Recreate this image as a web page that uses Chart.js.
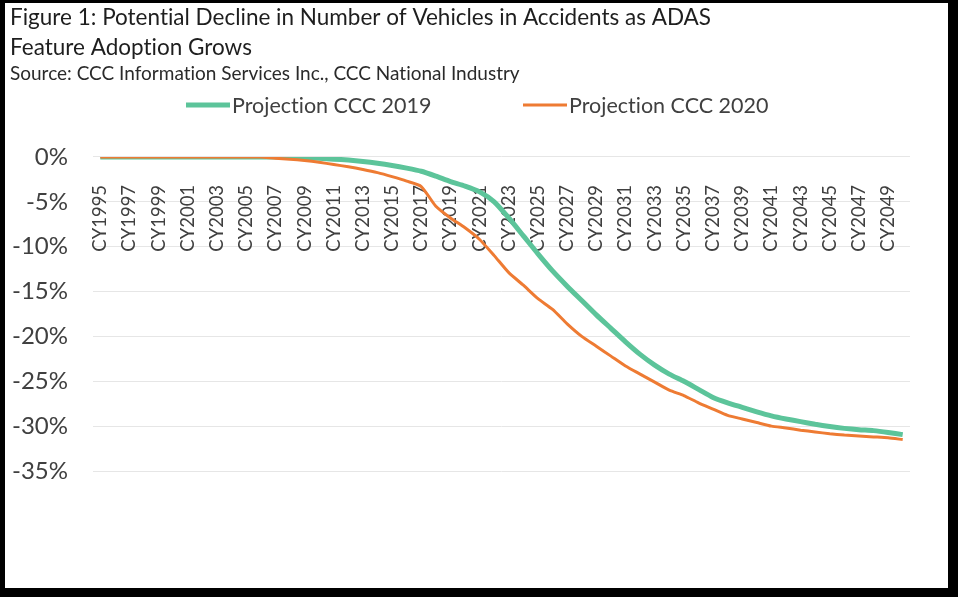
<!DOCTYPE html>
<html>
<head>
<meta charset="utf-8">
<script src="https://cdn.jsdelivr.net/npm/chart.js@4.4.1/dist/chart.umd.min.js"></script>
<style>
  html, body { margin: 0; padding: 0; background: #fff; }
  #frame {
    width: 943px; height: 585px;
    border-style: solid; border-color: #000;
    border-width: 3px 10px 9px 5px;
  }
</style>
</head>
<body>
<div id="frame"><canvas id="chart" width="943" height="585"></canvas></div>
<script>
const years = ['CY1995','CY1996','CY1997','CY1998','CY1999','CY2000','CY2001','CY2002','CY2003','CY2004',
  'CY2005','CY2006','CY2007','CY2008','CY2009','CY2010','CY2011','CY2012','CY2013','CY2014',
  'CY2015','CY2016','CY2017','CY2018','CY2019','CY2020','CY2021','CY2022','CY2023','CY2024',
  'CY2025','CY2026','CY2027','CY2028','CY2029','CY2030','CY2031','CY2032','CY2033','CY2034',
  'CY2035','CY2036','CY2037','CY2038','CY2039','CY2040','CY2041','CY2042','CY2043','CY2044',
  'CY2045','CY2046','CY2047','CY2048','CY2049','CY2050']

// percent change
const proj2019 = [0,0,0,0,0,0,0,0,0,0,0,0,0,
  -0.05,-0.1,-0.15,-0.25,-0.35,-0.5,-0.7,-0.95,-1.25,-1.6,-2.15,-2.75,-3.25,-3.9,-5.0,-6.8,-8.8,
  -10.8,-12.7,-14.4,-16.0,-17.6,-19.1,-20.6,-22.0,-23.2,-24.2,-25.0,-25.9,-26.8,-27.4,-27.9,
  -28.4,-28.85,-29.2,-29.5,-29.8,-30.05,-30.25,-30.4,-30.5,-30.7,-30.95]
const proj2020 = [0,0,0,0,0,0,0,0,0,0,0,0,
  -0.15,-0.25,-0.4,-0.6,-0.85,-1.1,-1.4,-1.75,-2.2,-2.7,-3.3,-5.5,-6.8,-7.9,-9.2,-11.0,-12.9,
  -14.3,-15.8,-17.0,-18.6,-20.0,-21.1,-22.2,-23.3,-24.2,-25.1,-26.0,-26.6,-27.4,-28.1,-28.8,
  -29.2,-29.6,-30.0,-30.2,-30.45,-30.65,-30.85,-31.0,-31.1,-31.2,-31.3,-31.5]
const yTicks = [0,-5,-10,-15,-20,-25,-30,-35]

const seriesNames = ['Projection CCC 2019', 'Projection CCC 2020']
const seriesColors = ['#5cc49a', '#ee7b33']
const FONT = 'Lato, "Open Sans", sans-serif'

// Lato's "ti" ligature looks off next to the original, turn ligatures off
const noLigatures = {
  id: 'noLigatures',
  beforeDraw(chart) {
    chart.ctx.textRendering = 'optimizeSpeed'
  }
}

// legend sits far apart like the excel one, so draw it by hand
const lineLegend = {
  id: 'lineLegend',
  afterDraw(chart) {
    const ctx = chart.ctx
    const spots = [181, 518]
    ctx.save()
    ctx.font = '21.5px ' + FONT
    ctx.textBaseline = 'middle'
    ctx.fillStyle = '#404040'
    chart.data.datasets.forEach((ds, i) => {
      const x = spots[i], y = 102
      ctx.strokeStyle = ds.borderColor
      ctx.lineWidth = ds.borderWidth
      ctx.beginPath()
      ctx.moveTo(x, y)
      ctx.lineTo(x + 44, y)
      ctx.stroke()
      ctx.fillText(ds.label, x + 46, y + 1)
    })
    ctx.restore()
  }
}

new Chart(document.getElementById('chart'), {
  type: 'line',
  data: {
    labels: years,
    datasets: [
      { label: seriesNames[0], data: proj2019, borderColor: seriesColors[0], borderWidth: 5,
        pointRadius: 0, tension: 0.2, borderJoinStyle: 'round', order: 1 },
      { label: seriesNames[1], data: proj2020, borderColor: seriesColors[1], borderWidth: 3,
        pointRadius: 0, tension: 0.2, borderJoinStyle: 'round', order: 0 }
    ]
  },
  options: {
    responsive: false,
    animation: false,
    layout: { padding: { left: 5, right: 38, top: 0, bottom: 117 } },
    plugins: {
      legend: { display: false },
      tooltip: { enabled: false },
      title: {
        display: true,
        text: ['Figure 1: Potential Decline in Number of Vehicles in Accidents as ADAS', 'Feature Adoption Grows'],
        align: 'start',
        color: '#1e1e1e',
        font: { family: FONT, size: 22.5, weight: 'normal', lineHeight: 30 / 22.5 },
        padding: { top: 0, bottom: 0 }
      },
      subtitle: {
        display: true,
        text: 'Source: CCC Information Services Inc., CCC National Industry',
        align: 'start',
        color: '#2a2a2a',
        font: { family: FONT, size: 19, lineHeight: 1.1 },
        padding: { top: 0, bottom: 73 }
      }
    },
    scales: {
      x: {
        position: { y: 0 },
        offset: true,
        grid: { display: false },
        border: { display: false },
        ticks: {
          autoSkip: false,
          minRotation: 90,
          maxRotation: 90,
          padding: 20,
          color: '#404040',
          font: { family: FONT, size: 18.5 },
          callback: function (v, i) { return i % 2 === 0 ? this.getLabelForValue(v) : '' }
        }
      },
      y: {
        min: -35,
        max: 0,
        afterFit: s => { s.width = 83 },
        afterBuildTicks: s => { s.ticks = yTicks.map(v => ({ value: v })) },
        grid: { color: '#e6e6e6', lineWidth: 1, drawTicks: false },
        border: { display: false },
        ticks: {
          padding: 25,
          color: '#404040',
          font: { family: FONT, size: 24 },
          callback: v => v + '%'
        }
      }
    }
  },
  plugins: [noLigatures, lineLegend]
})
</script>
</body>
</html>
